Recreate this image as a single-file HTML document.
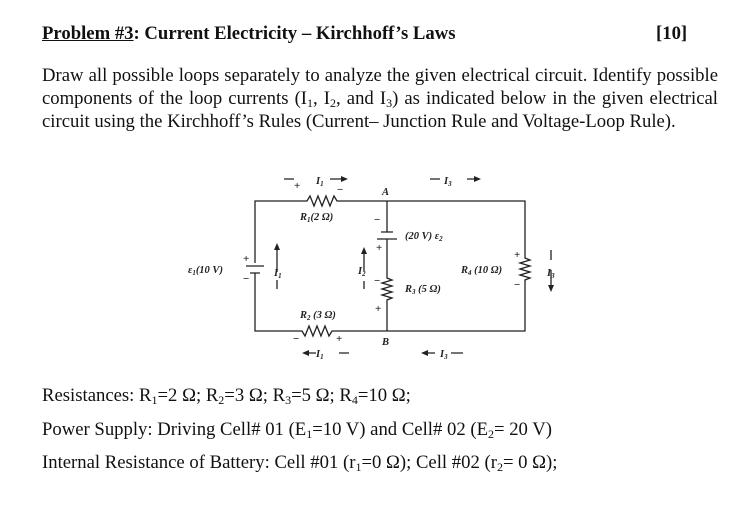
<!DOCTYPE html>
<html><head><style>
body{margin:0;width:735px;height:522px;background:#fff;position:relative;font-family:"Liberation Serif",serif;color:#111;overflow:hidden}
.t{position:absolute;white-space:nowrap;font-size:18.7px}
.j{width:676px;text-align:justify;text-align-last:justify}
sub{font-size:12px;vertical-align:-3px;line-height:0}
</style></head><body>
<div class="t" style="left:42px;top:23px;font-weight:bold"><u>Problem #3</u>: Current Electricity – Kirchhoff’s Laws</div>
<div class="t" style="left:656px;top:23px;font-weight:bold">[10]</div>
<div class="t j" style="left:42px;top:65px">Draw all possible loops separately to analyze the given electrical circuit. Identify possible</div>
<div class="t j" style="left:42px;top:88px">components of the loop currents (I<sub>1</sub>, I<sub>2</sub>, and I<sub>3</sub>) as indicated below in the given electrical</div>
<div class="t" style="left:42px;top:111px">circuit using the Kirchhoff’s Rules (Current– Junction Rule and Voltage-Loop Rule).</div>
<div class="t" style="left:42px;top:385px">Resistances: R<sub>1</sub>=2 Ω; R<sub>2</sub>=3 Ω; R<sub>3</sub>=5 Ω; R<sub>4</sub>=10 Ω;</div>
<div class="t" style="left:42px;top:419px">Power Supply: Driving Cell# 01 (E<sub>1</sub>=10 V) and Cell# 02 (E<sub>2</sub>= 20 V)</div>
<div class="t" style="left:42px;top:452px">Internal Resistance of Battery: Cell #01 (r<sub>1</sub>=0 Ω); Cell #02 (r<sub>2</sub>= 0 Ω);</div>
<svg width="735" height="522" style="position:absolute;left:0;top:0" font-family="Liberation Serif" font-size="10.5" font-weight="bold" font-style="italic">
<g stroke="#222" stroke-width="1.3" fill="none">
<path d="M255 263V201H307l3-5 4 10 4-10 4 10 4-10 4 10 4-10 3 5H525V258l5 2-10 3 10 3-10 3 10 3-10 3 10 3-5 2V331H332l-3 5-4-10-4 10-4-10-4 10-4-10-4 10-3-5H255V273"/>
<path d="M246 266h18M250 273h10"/>
<path d="M387 201V232M381 232h12M377 239h20M387 239V278l5 2-10 3 10 3-10 3 10 3-10 3 10 3-5 2V331"/>
<path d="M277 247v25M277 280v9M364 251v20M364 281v8M551 250v10M551 270v20M284 179h10M330 179h14M306 353h10M339 353h10M430 179h10M467 179h10M425 353h10M451 353h12"/>
</g>
<g fill="#222">
<path d="M277 243l-3 7h6zM364 247l-3 7h6zM551 292l-3-7h6zM348 179l-7-3v6zM481 179l-7-3v6zM302 353l7-3v6zM421 353l7-3v6z"/>
</g>
<g fill="#222" font-style="normal" font-size="11">
<text x="294" y="189">+</text><text x="337" y="193">−</text>
<text x="243" y="262">+</text><text x="243" y="282">−</text>
<text x="374" y="223">−</text><text x="376" y="251">+</text>
<text x="374" y="284">−</text><text x="375" y="312">+</text>
<text x="514" y="258">+</text><text x="514" y="288">−</text>
<text x="293" y="342">−</text><text x="336" y="342">+</text>
</g>
<g fill="#222">
<text x="316" y="184">I<tspan font-size="7" dy="2">1</tspan></text>
<text x="444" y="184">I<tspan font-size="7" dy="2">3</tspan></text>
<text x="382" y="195">A</text>
<text x="300" y="220">R<tspan font-size="7" dy="2">1</tspan><tspan dy="-2">(2 Ω)</tspan></text>
<text x="405" y="239">(20 V) ε<tspan font-size="7" dy="2">2</tspan></text>
<text x="188" y="273">ε<tspan font-size="7" dy="2">1</tspan><tspan dy="-2">(10 V)</tspan></text>
<text x="274" y="276">I<tspan font-size="7" dy="2">1</tspan></text>
<text x="358" y="274">I<tspan font-size="7" dy="2">2</tspan></text>
<text x="461" y="273">R<tspan font-size="7" dy="2">4</tspan><tspan dy="-2"> (10 Ω)</tspan></text>
<text x="547" y="276">I<tspan font-size="7" dy="2">3</tspan></text>
<text x="405" y="292">R<tspan font-size="7" dy="2">3</tspan><tspan dy="-2"> (5 Ω)</tspan></text>
<text x="300" y="318">R<tspan font-size="7" dy="2">2</tspan><tspan dy="-2"> (3 Ω)</tspan></text>
<text x="382" y="345">B</text>
<text x="316" y="357">I<tspan font-size="7" dy="2">1</tspan></text>
<text x="440" y="357">I<tspan font-size="7" dy="2">3</tspan></text>
</g>
</svg>
</body></html>
